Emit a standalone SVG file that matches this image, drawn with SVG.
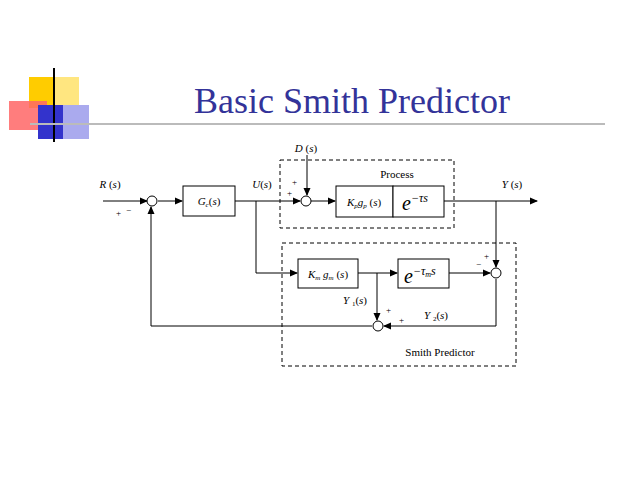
<svg xmlns="http://www.w3.org/2000/svg" width="638" height="479" viewBox="0 0 638 479">
<style>
text{font-family:"Liberation Serif","Times New Roman",serif;fill:#000}
.t{font-size:11px}
.i{font-style:italic}
.p{font-size:9px}
.s{font-size:7px}
.b{fill:#fff;stroke:#000;stroke-width:1}
.l{fill:none;stroke:#000;stroke-width:1}
.d{fill:none;stroke:#000;stroke-width:1;stroke-dasharray:4,3}
</style>
<defs><marker id="a" markerWidth="8" markerHeight="8" refX="7" refY="4" orient="auto" markerUnits="userSpaceOnUse"><path d="M0,0.5L8,4L0,7.5Z"/></marker></defs>
<rect width="638" height="479" fill="#fff"/>
<g id="deco">
<rect x="29" y="77" width="50" height="31" fill="#ffcc00"/>
<rect x="55" y="77" width="24" height="31" fill="#ffe680"/>
<rect x="9" y="101" width="38" height="29" fill="#ff6666" opacity="0.85"/>
<rect x="38" y="105" width="51" height="34" fill="#3333cc"/>
<rect x="63" y="105" width="26" height="34" fill="#aaaaee"/>
<line x1="54" y1="68" x2="54" y2="142" stroke="#000" stroke-width="2"/>
<line x1="30" y1="124" x2="605" y2="124" stroke="#bbb" stroke-width="2"/>
</g>
<text x="352" y="113" text-anchor="middle" style="font-size:36px;fill:#333399">Basic Smith Predictor</text>
<g id="conn">
<line class="l" x1="103" y1="201" x2="147" y2="201" marker-end="url(#a)"/>
<line class="l" x1="158" y1="201" x2="182" y2="201" marker-end="url(#a)"/>
<line class="l" x1="235" y1="201" x2="300" y2="201" marker-end="url(#a)"/>
<line class="l" x1="307" y1="155" x2="307" y2="195" marker-end="url(#a)"/>
<line class="l" x1="311" y1="201" x2="335" y2="201" marker-end="url(#a)"/>
<line class="l" x1="444" y1="201" x2="537" y2="201" marker-end="url(#a)"/>
<polyline class="l" points="256,201 256,273 297,273" marker-end="url(#a)"/>
<line class="l" x1="358" y1="273" x2="397" y2="273" marker-end="url(#a)"/>
<line class="l" x1="449" y1="273" x2="490" y2="273" marker-end="url(#a)"/>
<line class="l" x1="496" y1="201" x2="496" y2="267" marker-end="url(#a)"/>
<polyline class="l" points="496,279 496,326 384,326" marker-end="url(#a)"/>
<line class="l" x1="377" y1="273" x2="377" y2="320" marker-end="url(#a)"/>
<polyline class="l" points="372,326 151,326 151,207" marker-end="url(#a)"/>
</g>
<g id="process"><rect class="d" x="280" y="160" width="174" height="68"/><text class="t" x="397" y="178" text-anchor="middle">Process</text></g>
<g id="smith"><rect class="d" x="282" y="243" width="234" height="123"/><text class="t" x="440" y="356" text-anchor="middle">Smith Predictor</text></g>
<g id="sum1"><circle class="b" cx="152" cy="201" r="5"/><text class="p" x="116" y="216">+</text><text class="p" x="126" y="213">−</text></g>
<g id="gc"><rect class="b" x="183" y="186" width="52" height="30"/><text class="t i" x="209" y="205" text-anchor="middle">G<tspan class="s" dy="2">c</tspan><tspan dy="-2" font-style="normal">(</tspan>s<tspan font-style="normal">)</tspan></text></g>
<g id="sum2"><circle class="b" cx="306" cy="201" r="5"/><text class="p" x="292" y="185">+</text><text class="p" x="287" y="196">+</text></g>
<g id="kp"><rect class="b" x="336" y="186" width="57" height="31"/><text class="t i" x="364" y="206" text-anchor="middle">K<tspan class="s" dy="2">p</tspan><tspan dy="-2">g</tspan><tspan class="s" dy="2">p</tspan><tspan dy="-2" font-style="normal"> (</tspan>s<tspan font-style="normal">)</tspan></text></g>
<g id="ep"><rect class="b" x="393" y="186" width="51" height="31"/><text class="i" x="402" y="210" style="font-size:20px">e<tspan style="font-size:12px" dy="-8">−τs</tspan></text></g>
<g id="km"><rect class="b" x="298" y="259" width="60" height="29"/><text class="t i" x="328" y="278" text-anchor="middle">K<tspan class="s" dy="2">m</tspan><tspan dy="-2"> g</tspan><tspan class="s" dy="2">m</tspan><tspan dy="-2" font-style="normal"> (</tspan>s<tspan font-style="normal">)</tspan></text></g>
<g id="em"><rect class="b" x="398" y="259" width="51" height="29"/><text class="i" x="404" y="283" style="font-size:20px">e<tspan style="font-size:12px" dy="-8">−τ</tspan><tspan style="font-size:8px" dy="2">m</tspan><tspan style="font-size:12px" dy="-2">s</tspan></text></g>
<g id="sum3"><circle class="b" cx="496" cy="273" r="5"/><text class="p" x="484" y="259">+</text><text class="p" x="476" y="267">−</text></g>
<g id="sum4"><circle class="b" cx="378" cy="326" r="5"/><text class="p" x="386" y="313">+</text><text class="p" x="399" y="323">+</text></g>
<g id="labels">
<text class="t i" x="110" y="188" text-anchor="middle">R <tspan font-style="normal">(</tspan>s<tspan font-style="normal">)</tspan></text>
<text class="t i" x="262" y="188" text-anchor="middle">U<tspan font-style="normal">(</tspan>s<tspan font-style="normal">)</tspan></text>
<text class="t i" x="306" y="152" text-anchor="middle">D <tspan font-style="normal">(</tspan>s<tspan font-style="normal">)</tspan></text>
<text class="t i" x="512" y="188" text-anchor="middle">Y <tspan font-style="normal">(</tspan>s<tspan font-style="normal">)</tspan></text>
<text class="t i" x="355" y="304" text-anchor="middle">Y <tspan class="s" dy="2" font-style="normal">1</tspan><tspan dy="-2" font-style="normal">(</tspan>s<tspan font-style="normal">)</tspan></text>
<text class="t i" x="436" y="319" text-anchor="middle">Y <tspan class="s" dy="2" font-style="normal">2</tspan><tspan dy="-2" font-style="normal">(</tspan>s<tspan font-style="normal">)</tspan></text>
</g>
</svg>
